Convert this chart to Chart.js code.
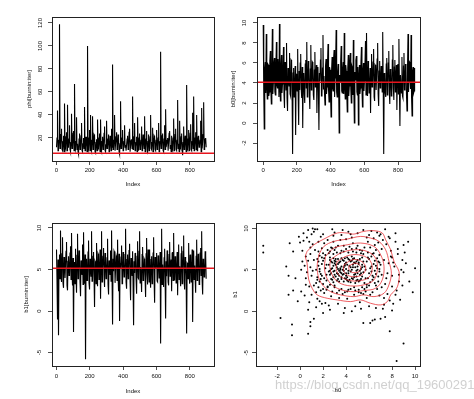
<!DOCTYPE html>
<html>
<head>
<meta charset="utf-8">
<script src="https://cdn.jsdelivr.net/npm/chart.js@4.4.1/dist/chart.umd.min.js"></script>
<style>
  body { margin: 0; background: #fff; width: 474px; height: 399px; overflow: hidden; position: relative; }
  canvas { position: absolute; }
  #wm { position: absolute; left: 275px; top: 378px; font: 13px "Liberation Sans", Arial, sans-serif;
        line-height: 13px; color: rgba(170,170,170,0.55); white-space: nowrap; }
</style>
</head>
<body>
<canvas id="phiChart" width="222" height="200" style="left:0;top:0"></canvas>
<canvas id="b0Chart" width="252" height="200" style="left:222px;top:0"></canvas>
<canvas id="b1Chart" width="222" height="199" style="left:0;top:200px"></canvas>
<canvas id="scatterChart" width="252" height="199" style="left:222px;top:200px"></canvas>
<div id="wm">https://blog.csdn.net/qq_19600291</div>
<script>
// trace samples, one value every 3 iterations
const indexStep = 3;
const phiValues = [
  12,20,44,9,10,18,119,11,14,23,28,10,9,17,22,8,50,13,11,21,25,9,49,12,13,19,31,10,8,16,41,11,12,24,26,9,67,12,10,17,
  38,10,15,8,6,19,24,10,11,22,33,9,8,15,20,11,47,9,12,21,18,8,100,12,10,20,27,9,40,11,9,18,39,10,14,23,22,8,7,16,
  19,9,36,12,11,20,24,8,36,11,9,17,21,10,13,24,30,9,8,14,35,11,12,19,23,8,10,22,17,9,28,12,84,10,11,18,40,9,9,21,
  25,10,13,23,20,8,6,15,52,11,12,20,27,9,10,17,31,12,14,9,9,19,22,10,12,25,28,8,8,18,19,11,56,10,11,21,33,9,13,16,
  21,8,38,12,9,20,24,10,12,18,30,9,10,23,18,11,39,8,11,19,26,10,6,17,23,9,13,21,40,11,10,16,29,8,14,22,21,10,9,18,
  27,10,12,20,33,8,10,17,95,11,13,22,24,9,8,19,31,10,45,12,12,18,20,9,9,24,26,11,14,8,22,12,10,20,37,9,13,23,28,10,
  9,18,53,11,15,8,35,12,11,21,24,9,5,16,30,10,12,22,19,8,66,11,10,19,27,9,14,24,32,10,9,17,42,11,56,9,12,20,25,10,
  40,9,10,21,22,12,13,18,35,8,46,11,11,23,51,10,14,19,20,12
];
const b0Values = [
  9.8,3.2,-0.6,5.4,6.1,3.0,8.9,3.6,2.4,5.9,5.8,2.7,3.1,6.2,7.2,3.4,1.9,5.1,9.4,2.9,4.0,6.0,6.5,3.1,2.8,5.6,8.1,3.8,3.5,6.4,5.4,2.6,9.9,3.5,2.2,5.8,6.8,3.0,3.9,5.3,
  7.6,2.8,1.5,6.1,5.1,3.3,8.0,2.5,1.2,5.5,4.6,3.7,7.0,2.9,2.7,6.3,6.2,3.1,-3.1,5.0,5.5,2.6,3.0,5.7,-1.2,4.9,4.8,3.2,7.4,2.7,-0.2,5.2,3.3,6.0,6.9,3.4,2.5,5.6,-0.5,4.7,
  5.0,2.9,2.0,5.9,6.3,3.5,8.1,2.6,3.4,6.2,5.7,3.0,1.4,5.4,7.8,3.3,3.8,6.1,6.0,2.8,2.3,5.3,7.1,3.6,4.4,5.8,1.0,4.9,5.6,3.1,-0.7,5.0,4.2,6.3,7.5,2.7,2.9,5.5,8.8,3.4,
  4.7,3.0,1.8,5.7,6.4,2.9,3.6,6.0,7.9,3.3,2.1,5.6,5.3,2.8,0.6,5.2,6.6,3.5,3.2,6.4,7.3,2.6,4.5,5.9,9.3,3.1,2.6,5.0,5.9,3.7,-1.0,4.8,4.1,6.2,7.7,3.2,3.0,5.4,6.1,2.9,
  9.0,3.6,2.4,5.8,5.2,3.0,1.1,5.5,6.8,2.7,3.7,6.1,7.0,3.4,2.0,5.7,5.5,2.8,8.3,3.3,0.0,5.1,4.3,6.3,6.7,3.1,2.8,5.6,-0.2,4.6,5.8,2.9,3.5,6.0,7.6,3.5,1.6,5.3,6.0,3.2,
  4.2,5.9,8.2,2.8,9.0,3.4,2.7,6.2,5.4,3.0,3.1,5.5,1.0,4.9,6.9,3.6,4.0,6.1,7.4,2.6,2.2,5.8,5.7,3.3,3.3,6.4,8.0,2.9,1.7,5.2,6.2,3.5,3.9,5.7,5.0,3.1,9.1,3.8,-3.1,5.0,
  4.6,3.0,2.6,5.9,6.5,2.8,3.4,6.0,7.2,3.2,1.9,5.4,5.1,2.7,3.0,6.3,7.8,3.5,2.3,5.6,6.3,3.1,4.4,5.8,1.3,5.1,5.9,2.9,8.4,3.6,-0.3,4.8,4.8,3.0,6.6,2.7,2.5,5.7,7.0,3.3,
  3.6,5.9,5.3,2.8,1.2,5.4,8.9,3.1,4.1,6.1,6.0,3.4,8.8,2.6,0.7,5.2,5.6,3.0,3.2,5.5
];
const b1Values = [
  7.4,3.6,-1.0,6.2,-2.9,5.9,6.8,3.9,9.7,4.2,3.5,6.9,8.9,3.4,2.8,6.5,6.1,4.0,4.0,7.2,8.3,3.1,2.5,6.0,6.6,4.3,4.4,7.0,7.8,3.8,9.4,4.5,3.1,6.4,-2.5,5.8,5.9,3.3,7.5,4.1,
  2.2,6.7,9.3,3.9,4.7,7.3,6.9,3.5,1.8,6.1,5.6,4.4,8.0,3.2,9.5,4.0,3.3,6.8,-5.8,5.9,6.3,3.7,4.1,7.1,8.5,3.4,2.6,6.3,5.4,4.2,9.6,3.6,3.8,6.6,7.1,4.0,0.5,6.0,5.8,3.3,
  8.2,4.1,3.0,6.9,6.7,3.8,4.3,7.4,1.5,6.2,9.6,3.5,5.0,6.6,7.6,4.3,2.9,7.0,6.2,3.9,4.5,6.4,8.7,3.2,2.0,6.1,5.7,4.4,7.3,3.6,9.7,4.0,-1.6,6.3,4.8,7.2,7.0,3.4,3.4,6.7,
  6.4,3.7,8.6,4.2,2.4,6.9,-1.2,5.8,5.2,6.5,7.9,3.3,3.6,7.1,6.0,4.1,4.2,6.8,9.9,3.5,2.7,6.2,6.8,3.9,4.9,7.3,8.1,3.6,1.3,6.4,5.5,4.3,7.2,3.1,-1.7,6.0,4.6,7.0,6.5,3.8,
  2.1,6.6,8.4,4.0,3.9,7.2,9.6,3.4,5.3,4.2,2.3,6.8,7.7,3.7,4.0,6.3,6.1,3.9,1.7,6.9,8.8,4.4,3.2,7.4,5.9,3.5,7.4,4.1,2.8,6.2,6.6,3.3,4.4,7.0,8.9,3.8,1.0,6.5,5.1,6.1,
  7.0,3.6,3.5,6.7,6.3,4.0,4.7,7.1,-3.9,5.9,9.9,3.2,5.6,4.3,2.9,6.4,7.5,3.9,-0.9,6.0,4.2,7.3,6.9,3.5,3.1,6.8,8.3,4.2,5.0,6.2,2.4,7.0,7.1,3.7,9.4,4.0,3.7,6.6,6.2,3.4,
  4.8,7.1,1.9,6.3,8.0,3.8,5.4,4.1,3.0,6.9,7.8,3.3,4.5,7.2,9.1,3.6,2.6,6.5,6.1,4.2,-2.7,5.8,5.7,3.9,8.2,4.4,3.3,6.7,6.8,3.5,4.1,7.4,-1.3,6.1,7.3,3.8,5.5,4.0,2.2,6.6,
  8.6,3.7,4.6,6.9,6.4,3.2,3.4,7.0,7.6,4.3,9.6,3.6,2.0,6.3,5.9,4.1,4.3,7.2,6.7,3.9
];
const phiMean = 6.8;
const b0Mean = 4.07;
const b1Mean = 5.15;

const indexTicks = [0, 200, 400, 600, 800];
const phiTicks = [20, 40, 60, 80, 100, 120];
const b0Ticks = [-2, 0, 2, 4, 6, 8, 10];
const b1Ticks = [-5, 0, 5, 10];

// b0 vs b1 draws
const scatterPoints = [
  [3.1,4.2],[4.6,5.3],[3.8,6.1],[5.2,4.4],[2.9,5.5],[4.1,3.7],[3.5,5.0],[4.9,6.0],[2.7,4.6],[5.4,5.6],
  [3.3,3.9],[4.4,4.8],[3.9,5.7],[5.0,3.8],[2.6,6.2],[4.7,4.1],[3.6,6.4],[5.3,5.1],[3.0,4.9],[4.2,6.3],
  [3.7,4.4],[4.8,5.8],[2.8,3.8],[5.5,4.7],[3.4,5.9],[4.0,4.3],[4.5,6.1],[3.2,5.3],[5.1,3.6],[2.9,4.1],
  [4.3,5.5],[3.8,3.6],[5.2,6.3],[3.1,6.0],[4.6,3.9],[3.5,4.7],[4.9,4.9],[2.7,5.1],[4.1,6.5],[5.4,4.2],
  [3.6,5.4],[4.4,3.5],[3.0,5.8],[5.0,5.4],[3.9,4.0],[4.7,6.4],[3.3,4.5],[5.3,3.9],[2.8,5.9],[4.2,4.6],
  [3.7,6.2],[4.8,4.5],[3.2,3.7],[5.5,6.0],[4.0,5.9],[3.4,4.3],[4.5,5.0],[2.6,4.4],[5.1,5.7],[3.8,4.9],
  [4.3,3.8],[3.1,5.6],[4.9,3.7],[3.6,3.9],[4.6,5.6],[2.9,6.4],[5.2,4.9],[3.9,6.4],[4.1,4.1],[3.5,5.2],
  [5.0,6.2],[2.7,3.9],[4.4,6.0],[3.3,6.3],[4.7,4.4],[3.0,4.4],[5.4,5.3],[3.8,5.3],[4.2,3.6],[4.0,5.1],
  [3.4,4.9],[4.5,4.0],[3.9,5.5],[5.0,4.6],[2.8,5.2],[4.3,6.2],[3.6,4.1],[4.8,5.3],[3.1,6.3],[5.3,4.6],
  [4.0,3.9],[3.3,5.7],[4.6,6.3],[2.9,4.8],[5.1,5.9],[3.7,5.0],[4.2,4.9],[3.5,6.0],[4.9,4.2],[3.2,4.6],
  [5.6,5.4],[2.5,5.6],[4.4,5.3],[3.8,4.5],[5.2,3.7],[3.0,6.1],[4.7,5.9],[3.4,3.6],[5.7,4.0],[2.6,4.9],
  [4.1,5.6],[3.6,4.6],[5.0,5.0],[2.9,3.5],[4.5,6.6],[3.3,5.1],[5.4,6.5],[4.0,4.6],[2.7,6.0],[4.8,3.4],
  [1.8,4.5],[2.2,6.8],[6.1,5.2],[6.5,3.4],[1.6,2.9],[2.4,7.4],[5.9,7.1],[6.8,6.0],[2.0,3.3],[5.7,2.4],
  [1.9,5.7],[6.3,4.3],[2.3,2.6],[4.9,7.6],[6.6,7.4],[1.5,6.3],[3.1,7.7],[6.9,4.8],[2.1,4.0],[5.8,2.9],
  [3.4,2.5],[6.2,6.6],[1.7,3.6],[4.3,7.8],[6.7,2.7],[2.5,7.0],[5.6,7.7],[1.4,5.0],[3.9,2.3],[7.0,5.6],
  [2.2,5.2],[6.0,3.1],[3.6,7.3],[5.3,2.2],[1.6,7.2],[6.4,5.7],[2.8,2.4],[4.6,7.2],[6.8,3.6],[2.0,6.1],
  [5.5,6.9],[3.0,2.9],[6.1,7.7],[1.8,2.5],[4.0,7.5],[6.5,4.9],[2.6,3.2],[5.1,2.6],[1.7,6.7],[6.3,2.3],
  [3.3,7.9],[5.9,4.0],[2.3,5.6],[4.7,2.0],[6.9,6.8],[1.5,4.1],[3.7,2.1],[6.0,6.3],[2.4,3.0],[5.2,7.4],
  [6.6,3.1],[1.9,7.6],[4.4,2.7],[6.2,5.4],[2.7,7.7],[5.6,3.4],[1.6,5.5],[3.5,7.0],[6.8,4.2],[2.1,2.2],
  [5.8,6.0],[4.1,2.4],[6.4,7.0],[2.9,6.9],[5.4,2.9],[1.8,3.9],[3.8,7.9],[6.7,5.2],[2.5,4.8],[5.0,7.9],
  [6.1,2.0],[2.0,7.0],[4.8,2.5],[6.5,6.1],[3.2,2.2],[5.7,5.0],[1.4,3.4],[4.2,7.1],[6.3,3.8],[2.6,6.5],
  [5.3,7.0],[3.6,2.7],[7.1,4.4],[1.7,4.8],[4.5,7.5],[6.0,4.6],[2.3,3.7],[5.5,2.1],[6.9,5.9],[3.0,7.4],
  [1.9,4.3],[6.2,4.8],[2.1,6.4],[5.9,6.5],[2.4,2.9],[6.6,5.5],[1.7,5.1],[6.1,3.5],[2.6,7.2],[5.6,2.7],
  [3.2,7.1],[6.4,4.1],[1.5,3.8],[4.9,7.1],[6.7,6.4],[2.0,2.7],[3.8,7.2],[5.8,3.2],[1.6,6.0],[6.9,5.1],
  [2.3,4.4],[4.2,2.6],[6.3,6.9],[3.0,3.1],[5.4,7.3],[1.9,6.5],[4.7,2.9],[6.6,4.5],[2.8,7.6],[5.1,2.3],
  [0.9,5.3],[7.3,6.2],[1.2,3.1],[7.6,4.6],[0.7,6.1],[7.1,7.5],[1.3,7.4],[8.1,5.9],[1.1,4.9],[7.4,3.3],
  [2.1,8.2],[5.9,8.4],[3.5,8.6],[4.6,8.2],[6.5,8.0],[2.7,1.8],[4.1,1.5],[5.8,1.6],[3.4,1.6],[6.9,1.9],
  [0.4,1.9],[8.6,4.4],[0.8,8.4],[7.8,8.8],[8.3,2.0],[1.7,1.2],[5.2,1.1],[4.4,9.3],[2.9,9.1],[6.7,9.5],
  [8.0,6.5],[0.5,4.0],[7.2,0.3],[2.6,0.2],[9.1,7.1],[0.1,5.0],[8.9,3.1],[6.0,9.2],[3.7,9.8],[1.4,2.3],
  [0.6,4.7],[0.9,6.9],[1.0,2.0],[8.2,5.4],[7.5,8.1],[0.3,8.5],[8.6,3.6],[7.8,1.3],[1.2,9.6],[0.5,3.2],
  [2.0,9.3],[7.3,0.8],[8.9,6.2],[0.8,1.1],[3.0,9.5],[7.9,7.3],[1.1,8.1],[8.4,2.5],[0.2,6.0],[4.2,9.6],
  [6.9,9.1],[1.4,0.5],[8.0,4.3],[0.7,9.8],[5.0,9.4],[7.6,2.1],[1.3,9.9],[9.0,4.7],[2.5,0.7],[6.2,9.7],
  [0.4,5.5],[7.2,8.6],[1.5,1.5],[8.5,7.5],[3.6,9.2],[7.4,9.9],[0.9,7.7],[8.7,1.4],[5.8,8.9],[2.2,1.0],
  [0.1,2.4],[7.7,5.8],[1.8,9.0],[4.8,0.6],[8.3,8.4],[0.6,8.9],[6.6,0.4],[3.3,0.9],[7.0,9.3],[2.8,9.9],
  [8.1,0.9],[1.0,4.3],[0.3,9.4],[7.3,1.6],[5.5,9.8],[2.4,8.6],[8.8,5.0],[1.6,8.4],[6.0,0.6],[0.8,3.0],
  [7.9,6.6],[4.5,8.9],[1.2,6.2],[8.0,3.0],[3.9,0.4],[6.8,8.3],[0.5,6.6],[7.5,4.0],[2.9,8.4],[5.3,0.3],
  [8.5,6.9],[1.0,9.3],[6.4,8.8],[7.1,2.9],[1.9,0.9],[0.2,7.3],[7.7,9.0],[4.0,8.7],[0.7,0.2],[9.2,5.8],
  [-3.2,7.9],[-3.2,7.1],[-1.7,-0.8],[-0.7,-1.6],[-0.7,-2.9],[0.7,-2.7],[0.9,-1.8],[0.9,-1.3],[1.2,-0.9],[5.5,-1.4],
  [6.1,-1.4],[6.3,-1.1],[6.5,-1.0],[7.0,-0.9],[7.4,-0.7],[7.8,-2.4],[9.0,-3.9],[8.4,-6.0],[10.0,5.2],[9.8,2.3],
  [-1.2,5.4],[-1.0,4.3],[-1.0,2.0],[-0.6,2.5],[-0.9,8.2],[-0.6,7.2],[-0.1,9.0],[0.0,8.3],[9.5,3.6],[9.4,8.4],
  [9.0,8.0],[8.3,9.4],[-0.4,4.0],[-0.2,1.2],[2.0,-0.2],[3.8,-0.2],[4.5,0.0],[8.0,0.1],[1.1,10.0],[1.5,9.9]
];
const scatterTicksX = [-2, 0, 2, 4, 6, 8, 10];

// density contour lines (b0, b1), outer to inner
const contourLines = [
  [[0.61,7.22],[1.20,8.02],[2.07,8.71],[3.23,9.44],[4.10,9.44],[4.68,9.31],[5.55,9.64],[6.43,9.72],[7.15,9.44],[7.44,8.63],
   [7.88,7.42],[8.17,6.01],[8.60,4.80],[8.60,3.79],[8.40,2.78],[7.88,1.98],[7.59,1.17],[7.01,0.77],[6.13,0.97],[5.26,1.37],
   [4.39,1.17],[3.23,1.37],[2.36,1.57],[1.49,1.98],[1.05,2.78],[0.76,3.79],[0.67,4.80],[0.61,5.81],[0.47,6.61]],
  [[1.63,6.81],[2.07,7.82],[2.94,8.43],[4.10,8.71],[5.26,9.03],[6.13,8.83],[6.86,8.43],[7.44,7.42],[7.73,6.01],[7.94,4.60],
   [7.73,3.19],[7.30,2.18],[6.43,1.77],[5.55,1.98],[4.68,1.77],[3.52,1.98],[2.65,2.38],[2.07,2.98],[1.63,3.99],[1.49,5.40]],
  [[2.21,6.61],[2.94,7.62],[4.10,8.02],[5.26,8.23],[6.43,7.82],[7.01,6.81],[7.30,5.40],[7.15,3.79],[6.57,2.78],[5.55,2.50],
   [4.39,2.38],[3.23,2.78],[2.50,3.59],[2.13,5.00]],
  [[2.65,6.21],[3.52,7.02],[4.68,7.42],[5.84,7.22],[6.57,6.41],[6.72,5.00],[6.43,3.79],[5.55,3.19],[4.39,3.06],[3.37,3.47],
   [2.79,4.40],[2.59,5.40]],
  [[3.23,6.01],[4.10,6.69],[5.12,6.81],[5.99,6.29],[6.28,5.20],[5.99,4.11],[5.12,3.67],[4.10,3.79],[3.37,4.40],[3.14,5.20]],
  [[3.81,5.60],[4.54,6.21],[5.26,6.09],[5.70,5.40],[5.55,4.60],[4.97,4.19],[4.25,4.27],[3.81,4.80]],
  [[4.25,5.48],[4.83,5.81],[5.26,5.40],[5.12,4.80],[4.54,4.68],[4.25,5.08]]
];

Chart.defaults.font.family = '"Liberation Sans", Arial, sans-serif';
Chart.defaults.font.size = 6;
Chart.defaults.color = '#111';
Chart.defaults.animation = false;

// R style box around the plot region
const framePlugin = {
  id: 'frame',
  afterDraw(chart) {
    const a = chart.chartArea, ctx = chart.ctx;
    ctx.save();
    ctx.strokeStyle = '#222';
    ctx.lineWidth = 1;
    ctx.strokeRect(Math.round(a.left) + 0.5, Math.round(a.top) + 0.5,
                   Math.round(a.right - a.left), Math.round(a.bottom - a.top));
    ctx.restore();
  }
};

function yAxis(ticks, min, max, title, width, tickPad, titlePad) {
  return {
    type: 'linear', min: min, max: max, position: 'left',
    afterBuildTicks: s => { s.ticks = ticks.map(v => ({ value: v })); },
    afterFit: s => { s.width = width; },
    ticks: { minRotation: 90, maxRotation: 90, crossAlign: 'center', padding: tickPad, autoSkip: false },
    grid: { drawOnChartArea: false, tickLength: 4, color: '#222', lineWidth: 0.8 },
    border: { display: false },
    title: { display: true, text: title, padding: { top: titlePad, bottom: 0 } }
  };
}

function xAxis(ticks, min, max, title, height, tickPad, titlePad) {
  return {
    type: 'linear', min: min, max: max, position: 'bottom',
    afterBuildTicks: s => { s.ticks = ticks.map(v => ({ value: v })); },
    afterFit: s => { s.height = height; },
    ticks: { maxRotation: 0, padding: tickPad, autoSkip: false },
    grid: { drawOnChartArea: false, tickLength: 4, color: '#222', lineWidth: 0.8 },
    border: { display: false },
    title: { display: true, text: title, padding: { top: 0, bottom: titlePad } }
  };
}

function baseOptions(pad, scales) {
  return {
    responsive: false,
    devicePixelRatio: 1,
    layout: { padding: pad },
    plugins: { legend: { display: false }, tooltip: { enabled: false } },
    scales: scales
  };
}

function tracePanel(id, values, mean, xr, yr, yTicks, yTitle, pad, dims) {
  const points = values.map((v, i) => ({ x: 1 + i * indexStep, y: v }));
  return new Chart(document.getElementById(id), {
    type: 'line',
    data: {
      datasets: [
        { data: [{ x: xr[0], y: mean }, { x: xr[1], y: mean }], borderColor: '#e8141c', borderWidth: 1.4, pointRadius: 0 },
        { data: points, borderColor: '#000', borderWidth: 1.1, pointRadius: 0, tension: 0 }
      ]
    },
    options: baseOptions(pad, {
      x: xAxis(indexTicks, xr[0], xr[1], 'Index', dims.xh, dims.xtp, dims.xtitle),
      y: yAxis(yTicks, yr[0], yr[1], yTitle, dims.yw, dims.ytp, dims.ytitle)
    }),
    plugins: [framePlugin]
  });
}

tracePanel('phiChart', phiValues, phiMean, [-26, 945], [0, 125.2], phiTicks, 'phi[burnin:iter]',
  { left: 0, top: 17, right: 8, bottom: 0 }, { xh: 39, xtp: 1.4, xtitle: 12.4, yw: 52, ytp: 3, ytitle: 25.4 });

tracePanel('b0Chart', b0Values, b0Mean, [-36, 930], [-3.8, 10.6], b0Ticks, 'b0[burnin:iter]',
  { left: 0, top: 17, right: 54, bottom: 0 }, { xh: 39, xtp: 1.4, xtitle: 12.4, yw: 35, ytp: 5.3, ytitle: 7.4 });

tracePanel('b1Chart', b1Values, b1Mean, [-26, 945], [-6.6, 10.6], b1Ticks, 'b1[burnin:iter]',
  { left: 0, top: 23, right: 8, bottom: 0 }, { xh: 33, xtp: 2.4, xtitle: 4.4, yw: 52, ytp: 5.3, ytitle: 22.4 });

const contourSets = contourLines.map(line => ({
  data: line.concat([line[0]]).map(p => ({ x: p[0], y: p[1] })),
  showLine: true, borderColor: 'rgba(232,30,36,0.9)', borderWidth: 0.8, pointRadius: 0, tension: 0.35
}));

new Chart(document.getElementById('scatterChart'), {
  type: 'scatter',
  data: {
    datasets: contourSets.concat([{
      data: scatterPoints.map(p => ({ x: p[0], y: p[1] })),
      pointRadius: 1, backgroundColor: '#000', borderWidth: 0
    }])
  },
  options: baseOptions({ left: 0, top: 23, right: 54, bottom: 0 }, {
    x: xAxis(scatterTicksX, -3.83, 10.43, 'b0', 33, 2.4, 5.4),
    y: yAxis(b1Ticks, -6.6, 10.65, 'b1', 34, 2.6, 9.4)
  }),
  plugins: [framePlugin]
});
</script>
</body>
</html>
